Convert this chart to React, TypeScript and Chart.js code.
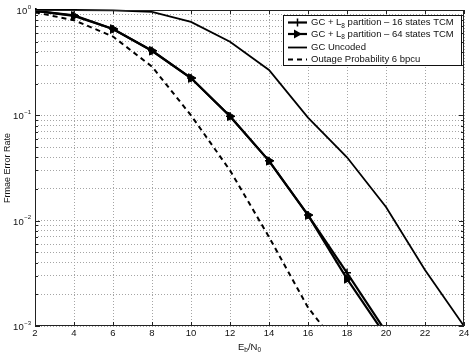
import React, { useEffect, useRef } from 'react';
import { Chart, registerables } from 'chart.js';
Chart.register(...registerables);

// ---- data ----
const tcmX = [2, 4, 6, 8, 10, 12, 14, 16, 18, 20];
const tcm16 = [0.98, 0.89, 0.66, 0.41, 0.226, 0.098, 0.037, 0.0113, 0.0032, 0.00088];
const tcm64 = [0.98, 0.88, 0.66, 0.41, 0.226, 0.098, 0.037, 0.0113, 0.0028, 0.0008];
const uncodedX = [2, 4, 6, 8, 10, 12, 14, 16, 18, 20, 22, 24];
const uncoded = [1, 1, 0.99, 0.96, 0.77, 0.5, 0.27, 0.095, 0.04, 0.0135, 0.0034, 0.001];
const outageX = [2, 4, 6, 8, 10, 12, 14, 16, 18];
const outage = [0.95, 0.8, 0.56, 0.29, 0.1, 0.03, 0.007, 0.0015, 0.0005];

const xTicks = [2, 4, 6, 8, 10, 12, 14, 16, 18, 20, 22, 24];
const yDecades = [0.001, 0.01, 0.1, 1];
const yExponents = ['\u22123', '\u22122', '\u22121', '0'];
const yMultipliers = [1, 2, 3, 4, 5, 6, 7, 8, 9];

const legendLabels = [
  ['GC + L', '8', ' partition \u2013 16 states TCM'],
  ['GC + L', '8', ' partition \u2013 64 states TCM'],
  ['GC Uncoded', '', ''],
  ['Outage Probability 6 bpcu', '', ''],
];
const yTitle = 'Frmae Error Rate';
const xTitle = ['E', 'b', '/N', '0'];

const FONT = 'Liberation Sans, Arial, Helvetica, sans-serif';

const yGrid: number[] = [];
yDecades.slice(0, 3).forEach((d) => yMultipliers.forEach((m) => yGrid.push(m * d)));
yGrid.push(1);

const pts = (xs: number[], ys: number[]) => xs.map((x, i) => ({ x, y: ys[i] }));

const decor = {
  id: 'decor',
  afterDraw(chart: any) {
    const { ctx, chartArea: a, scales } = chart;
    const xs = scales.x;
    const ys = scales.y;
    ctx.save();
    // frame
    ctx.strokeStyle = '#222';
    ctx.lineWidth = 1;
    ctx.setLineDash([]);
    ctx.strokeRect(a.left + 0.5, a.top + 0.5, a.right - a.left - 1, a.bottom - a.top - 1);
    // ticks
    ctx.beginPath();
    xTicks.forEach((v) => {
      const px = Math.round(xs.getPixelForValue(v)) + 0.5;
      ctx.moveTo(px, a.bottom);
      ctx.lineTo(px, a.bottom - 4);
      ctx.moveTo(px, a.top);
      ctx.lineTo(px, a.top + 4);
    });
    yGrid.forEach((v) => {
      const py = Math.round(ys.getPixelForValue(v)) + 0.5;
      const major = yDecades.includes(v);
      const len = major ? 5 : 3;
      ctx.moveTo(a.left, py);
      ctx.lineTo(a.left + len, py);
      ctx.moveTo(a.right, py);
      ctx.lineTo(a.right - len, py);
    });
    ctx.stroke();

    // x tick labels
    ctx.fillStyle = '#111';
    ctx.font = `9.5px ${FONT}`;
    ctx.textAlign = 'center';
    ctx.textBaseline = 'middle';
    xTicks.forEach((v) => {
      ctx.fillText(String(v), xs.getPixelForValue(v), a.bottom + 7.5);
    });
    // y tick labels
    yDecades.forEach((v, i) => {
      const py = ys.getPixelForValue(v);
      ctx.font = `6px ${FONT}`;
      ctx.textAlign = 'right';
      const ew = ctx.measureText(yExponents[i]).width;
      ctx.fillText(yExponents[i], 31, py - 3);
      ctx.font = `9.5px ${FONT}`;
      ctx.fillText('10', 31 - ew - 0.5, py + 1.5);
    });
    // x title
    ctx.textAlign = 'left';
    ctx.textBaseline = 'alphabetic';
    {
      const parts = xTitle;
      const big = `9.5px ${FONT}`;
      const small = `6.5px ${FONT}`;
      const widths = parts.map((p, i) => {
        ctx.font = i % 2 === 0 ? big : small;
        return ctx.measureText(p).width;
      });
      const total = widths.reduce((s, w) => s + w, 0);
      let x = (a.left + a.right) / 2 - total / 2;
      const base = 350;
      parts.forEach((p, i) => {
        ctx.font = i % 2 === 0 ? big : small;
        ctx.fillText(p, x, i % 2 === 0 ? base : base + 2);
        x += widths[i];
      });
    }
    // y title
    ctx.save();
    ctx.translate(7.5, (a.top + a.bottom) / 2);
    ctx.rotate(-Math.PI / 2);
    ctx.font = `9px ${FONT}`;
    ctx.textAlign = 'center';
    ctx.textBaseline = 'middle';
    ctx.fillText(yTitle, 0, 0);
    ctx.restore();

    // legend
    const bx = 283, by = 15, bw = 178, bh = 50;
    ctx.fillStyle = '#fff';
    ctx.fillRect(bx, by, bw, bh);
    ctx.strokeStyle = '#111';
    ctx.lineWidth = 1;
    ctx.strokeRect(bx + 0.5, by + 0.5, bw, bh);
    const rows = [22.5, 34, 47.5, 59.5];
    const dsets = chart.data.datasets;
    rows.forEach((ry, i) => {
      const ds = dsets[i];
      ctx.strokeStyle = '#000';
      ctx.lineWidth = ds.borderWidth;
      ctx.setLineDash(ds.borderDash || []);
      ctx.beginPath();
      ctx.moveTo(288, ry);
      ctx.lineTo(307, ry);
      ctx.stroke();
      ctx.setLineDash([]);
      if (ds.pointStyle === 'cross') {
        ctx.lineWidth = 1.5;
        ctx.beginPath();
        ctx.moveTo(297.5, ry - 4);
        ctx.lineTo(297.5, ry + 4);
        ctx.stroke();
      } else if (ds.pointStyle === 'triangle') {
        ctx.fillStyle = '#000';
        ctx.beginPath();
        ctx.moveTo(302, ry);
        ctx.lineTo(294, ry - 4.5);
        ctx.lineTo(294, ry + 4.5);
        ctx.closePath();
        ctx.fill();
      }
      const [t1, sub, t2] = legendLabels[i];
      ctx.fillStyle = '#111';
      ctx.textBaseline = 'middle';
      ctx.textAlign = 'left';
      let x = 311;
      ctx.font = `9.5px ${FONT}`;
      ctx.fillText(t1, x, ry);
      x += ctx.measureText(t1).width;
      if (sub) {
        ctx.font = `6.5px ${FONT}`;
        ctx.fillText(sub, x, ry + 3.5);
        x += ctx.measureText(sub).width;
        ctx.font = `9.5px ${FONT}`;
        ctx.fillText(t2, x, ry);
      }
    });
    ctx.restore();
  },
};

export default function App() {
  const ref = useRef<HTMLCanvasElement>(null);
  useEffect(() => {
    document.body.style.margin = '0';
    const canvas = ref.current!;
    const clip = { left: 0, top: 2, right: 0, bottom: 0 };
    const chart = new Chart(canvas, {
      type: 'line',
      data: {
        datasets: [
          {
            label: 'tcm16',
            data: pts(tcmX, tcm16),
            borderColor: '#000',
            backgroundColor: '#000',
            borderWidth: 2.2,
            pointStyle: 'cross',
            pointRadius: 4,
            pointBorderWidth: 1.5,
            tension: 0,
            clip,
          },
          {
            label: 'tcm64',
            data: pts(tcmX, tcm64),
            borderColor: '#000',
            backgroundColor: '#000',
            borderWidth: 2.2,
            pointStyle: 'triangle',
            pointRotation: 90,
            pointRadius: 5,
            pointBorderWidth: 1,
            tension: 0,
            clip,
          },
          {
            label: 'uncoded',
            data: pts(uncodedX, uncoded),
            borderColor: '#000',
            borderWidth: 1.8,
            pointRadius: 0,
            tension: 0,
            clip,
          },
          {
            label: 'outage',
            data: pts(outageX, outage),
            borderColor: '#000',
            borderWidth: 2,
            borderDash: [5, 4],
            pointRadius: 0,
            tension: 0,
            clip,
          },
        ],
      } as any,
      options: {
        animation: false,
        responsive: false,
        events: [],
        layout: { padding: { top: 10, right: 10, left: 0, bottom: 0 } },
        plugins: { legend: { display: false }, tooltip: { enabled: false } },
        scales: {
          x: {
            type: 'linear',
            min: 2,
            max: 24,
            afterBuildTicks: (s: any) => {
              s.ticks = xTicks.map((v) => ({ value: v }));
            },
            ticks: { display: false },
            grid: { color: '#a5a5a5', lineWidth: 1, drawTicks: false },
            border: { display: false, dash: [1, 2] },
            afterFit: (s: any) => {
              s.height = 28;
            },
          },
          y: {
            type: 'logarithmic',
            min: 0.001,
            max: 1,
            afterBuildTicks: (s: any) => {
              s.ticks = yGrid.map((v) => ({ value: v }));
            },
            ticks: { display: false },
            grid: { color: '#a5a5a5', lineWidth: 1, drawTicks: false },
            border: { display: false, dash: [1, 2] },
            afterFit: (s: any) => {
              s.width = 35;
            },
          },
        },
      } as any,
      plugins: [decor],
    });
    return () => chart.destroy();
  }, []);
  return <canvas ref={ref} width={474} height={354} style={{ display: 'block' }} />;
}
